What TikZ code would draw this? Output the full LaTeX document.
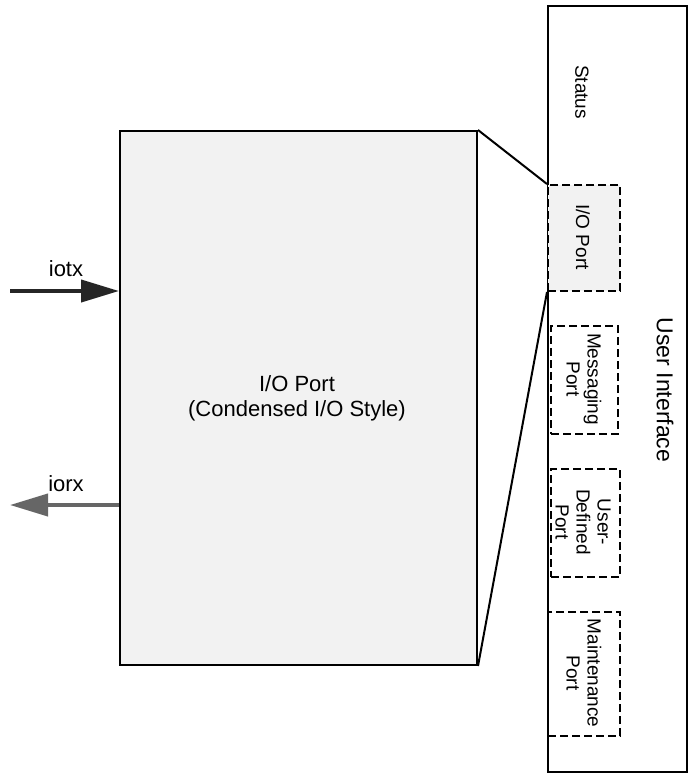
\documentclass[tikz,border=0pt]{standalone}
\usepackage{fontspec}
\setmainfont{Liberation Sans}
\usetikzlibrary{arrows.meta}
\begin{document}
\begin{tikzpicture}[x=1pt,y=-1pt,
  box/.style={draw,line width=2pt},
  dbox/.style={draw,line width=2pt,dash pattern=on 8pt off 4pt},
  rt/.style={rotate=-90,font=\fontsize{19}{21}\selectfont,align=center},
  lbl/.style={font=\fontsize{22}{25}\selectfont,align=center}]
\useasboundingbox (0,0) rectangle (698,777);
\node[box,fill=black!5,minimum width=357pt,minimum height=534pt,anchor=north west] (big) at (119,130) {};
\node[lbl] at (297,398) {I/O Port\\(Condensed I/O Style)};
\node[box,minimum width=139pt,minimum height=766pt,anchor=north west] (ui) at (547,5) {};
\node[rt,font=\fontsize{23}{25}\selectfont] (uil) at (665,390) {User Interface};
\node[rt] (st) at (582,92) {Status};
\node[dbox,fill=black!5,minimum width=72pt,minimum height=106pt,anchor=north west] (io) at (547,184) {};
\node[rt] at (583,237) {I/O Port};
\node[dbox,minimum width=67pt,minimum height=108pt,anchor=north west] (msg) at (550,325) {};
\node[rt] at (584,379) {Messaging\\Port};
\node[dbox,minimum width=69pt,minimum height=108pt,anchor=north west] (ud) at (550,468) {};
\node[rt] at (583,522) {User-\\Defined\\Port};
\node[dbox,minimum width=72pt,minimum height=124pt,anchor=north west] (mt) at (547,611) {};
\node[rt] at (584,673) {Maintenance\\Port};
\draw[line width=2pt] (big.north east) -- (io.north west);
\draw[line width=2pt] (big.south east) -- (io.south west);
\coordinate (a) at (10,291);
\coordinate (b) at (10,505);
\draw[line width=4pt,black!85,-{Triangle[length=38pt,width=22pt]}] (a) -- (big.west |- a);
\draw[line width=4pt,black!60,-{Triangle[length=38pt,width=22pt]}] (big.west |- b) -- (b);
\node[lbl] at (66,269) {iotx};
\node[lbl] at (66,484) {iorx};
\end{tikzpicture}
\end{document}
